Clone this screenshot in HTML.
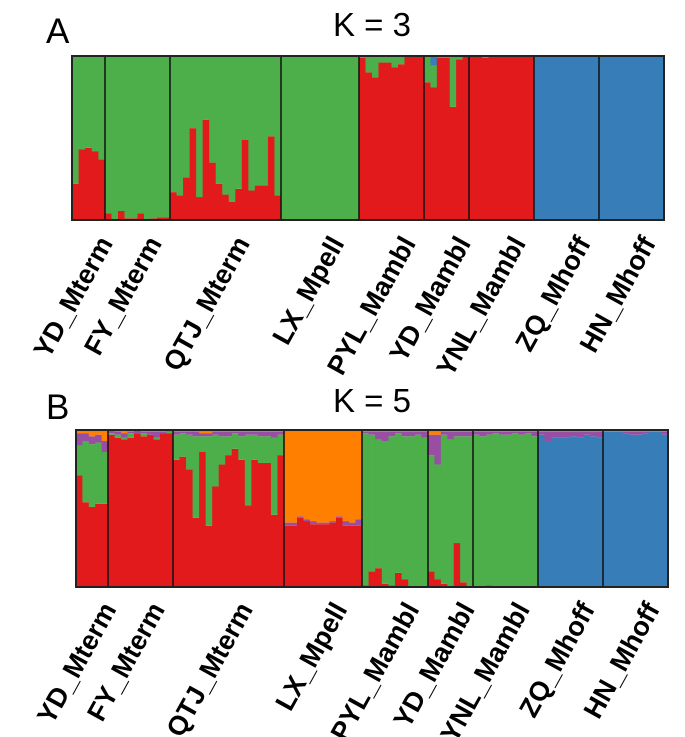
<!DOCTYPE html>
<html><head><meta charset="utf-8"><style>
html,body{margin:0;padding:0;background:#fff;}
svg{display:block;font-family:"Liberation Sans",Arial,sans-serif;}
</style></head><body>
<svg id="chart" width="685" height="737" viewBox="0 0 685 737">
<text x="46" y="43" font-size="35">A</text>
<text x="372" y="36" font-size="33" text-anchor="middle">K = 3</text>
<text x="46" y="419" font-size="35">B</text>
<text x="372" y="412" font-size="33" text-anchor="middle">K = 5</text>
<g id="pa"></g>
<g id="pb"></g>
</svg>
<script>
const groups = ["YD_Mterm","FY_Mterm","QTJ_Mterm","LX_Mpell","PYL_Mambl","YD_Mambl","YNL_Mambl","ZQ_Mhoff","HN_Mhoff"];
const groupSizes = [5,10,17,12,10,7,10,10,10];
const colorsA = ["#e31a1c","#4daf4a","#377eb8"];
const colorsB = ["#e31a1c","#4daf4a","#377eb8","#984ea3","#ff7f00"];
const kaRed = [0.22,0.43,0.44,0.42,0.37, 0.04,0,0.055,0.01,0.01,0.04,0,0.01,0.015,0.015,
 0.17,0.15,0.26,0.56,0.14,0.61,0.35,0.22,0.155,0.11,0.19,0.49,0.18,0.21,0.21,0.51,0.15,
 0,0,0,0,0,0,0,0,0,0,0,0,
 0.99,0.9,0.87,0.96,0.96,0.93,0.95,1,1,1,
 0.84,0.81,0.99,0.99,0.69,0.98,1,
 1,1,0.99,1,1,1,1,1,1,1,
 0,0,0,0,0,0,0,0,0,0, 0,0,0,0,0,0,0,0,0,0];
const kaBlue = [0,0,0,0,0, 0,0,0,0,0,0,0,0,0,0, 0,0,0,0,0,0,0,0,0,0,0,0,0,0,0,0,0,
 0,0,0,0,0,0,0,0,0,0,0,0, 0,0,0,0,0,0,0,0,0,0,
 0,0.06,0,0,0,0,0, 0,0,0,0,0,0,0,0,0,0,
 1,1,1,1,1,1,1,1,1,1, 1,1,1,1,1,1,1,1,1,1];
const kbRed = [0.71,0.54,0.51,0.53,0.53, 0.97,0.95,0.94,0.95,0.98,0.96,0.97,0.94,0.98,0.98,
 0.81,0.83,0.75,0.44,0.86,0.39,0.64,0.78,0.84,0.88,0.81,0.52,0.81,0.79,0.79,0.46,0.84,
 0.39,0.39,0.44,0.42,0.4,0.4,0.4,0.41,0.44,0.39,0.39,0.39,
 0.01,0.1,0.12,0.02,0.01,0.09,0.05,0,0,0,
 0.1,0.05,0.02,0,0.28,0.03,0,
 0,0,0.01,0,0,0,0,0,0,0,
 0,0,0,0,0,0,0,0,0,0, 0,0,0,0,0,0,0,0,0,0];
const kbGreen = [0.19,0.39,0.4,0.39,0.33, 0.01,0.02,0.01,0.03,0,0.02,0,0.01,0,0.01,
 0.16,0.15,0.22,0.52,0.1,0.57,0.33,0.18,0.12,0.1,0.15,0.45,0.16,0.17,0.17,0.49,0.13,
 0,0,0,0,0,0,0,0,0,0,0,0,
 0.97,0.87,0.82,0.91,0.95,0.89,0.91,0.96,0.97,0.95,
 0.74,0.73,0.95,0.94,0.68,0.93,0.96,
 0.97,0.96,0.96,0.98,0.97,0.97,0.98,0.97,0.98,0.96,
 0,0,0,0,0,0,0,0,0,0, 0,0,0,0,0,0,0,0,0,0];
const kbBlue = [0,0,0,0,0, 0,0,0,0,0,0,0,0,0,0, 0,0,0,0,0,0,0,0,0,0,0,0,0,0,0,0,0,
 0,0,0,0,0,0,0,0,0,0,0,0, 0,0,0,0,0,0,0,0,0,0, 0,0,0,0,0,0,0, 0,0,0,0,0,0,0,0,0,0,
 0.97,0.93,0.95,0.95,0.95,0.96,0.95,0.97,0.96,0.95, 0.99,0.99,0.99,0.98,0.97,0.97,0.98,0.99,0.99,0.97];
const kbPurple = [0.08,0.05,0.05,0.05,0.07, 0.02,0.02,0.03,0.01,0.02,0.01,0.02,0.04,0.01,0.01,
 0.02,0.01,0.02,0.03,0.02,0.02,0.02,0.03,0.03,0.01,0.03,0.02,0.02,0.03,0.03,0.04,0.02,
 0.02,0.02,0.01,0.01,0.02,0.01,0.01,0.01,0.01,0.03,0.02,0.04,
 0.01,0.02,0.05,0.06,0.03,0.01,0.03,0.03,0.02,0.04,
 0.13,0.19,0.02,0.05,0.03,0.03,0.03,
 0.02,0.03,0.02,0.01,0.02,0.02,0.01,0.02,0.01,0.03,
 0.02,0.06,0.04,0.04,0.04,0.03,0.04,0.02,0.03,0.04, 0,0,0,0.01,0.02,0.02,0.01,0,0,0.02];

const NS="http://www.w3.org/2000/svg";
function mk(tag,attrs,parent){const e=document.createElementNS(NS,tag);for(const k in attrs)e.setAttribute(k,attrs[k]);parent.appendChild(e);return e;}

function drawPanel(g, bounds, top, bottom, stacks, colors, labelY, prefix){
  const H=bottom-top;
  let idx=0;
  for(let gi=0;gi<groups.length;gi++){
    const x0=bounds[gi], x1=bounds[gi+1], n=groupSizes[gi], w=(x1-x0)/n;
    for(let i=0;i<n;i++,idx++){
      const vals=stacks.map(a=>a[idx]);
      const sum=vals.reduce((a,b)=>a+b,0);
      vals.push(Math.max(0,1-sum));
      let yb=bottom;
      for(let c=0;c<vals.length;c++){
        const h=vals[c]*H; if(h<=0) continue;
        const r=mk('rect',{x:(x0+i*w).toFixed(2),y:(yb-h).toFixed(2),width:(w+0.4).toFixed(2),height:h.toFixed(2),fill:colors[c]},g);
        
        
        yb-=h;
      }
    }
  }
  for(let gi=1;gi<groups.length;gi++){
    const l=mk('line',{x1:bounds[gi],x2:bounds[gi],y1:top,y2:bottom,stroke:'#111','stroke-width':1.5},g);
    
    
  }
  const fr=mk('rect',{x:bounds[0],y:top,width:bounds[groups.length]-bounds[0],height:H,fill:'none',stroke:'#222','stroke-width':2},g);
  
  
  for(let gi=0;gi<groups.length;gi++){
    const cx=(bounds[gi]+bounds[gi+1])/2+25;
    const t=mk('text',{x:cx,y:labelY,'font-size':27,'font-weight':'bold','text-anchor':'end',transform:`rotate(-61 ${cx} ${labelY})`},g);
    t.textContent=groups[gi];
    
    
  }
}
const boundsA=[72,105,170,281,359,424,469,534,599,664];
const boundsB=[76,108,173,284,362,428,473,538,603,668];
drawPanel(document.getElementById('pa'),boundsA,56,220,[kaRed,kaRed.map((r,i)=>Math.max(0,1-r-kaBlue[i]))],colorsA,243,'k3');
drawPanel(document.getElementById('pb'),boundsB,430,587,[kbRed,kbGreen,kbBlue,kbPurple],colorsB,609,'k5');
</script>
</body></html>
